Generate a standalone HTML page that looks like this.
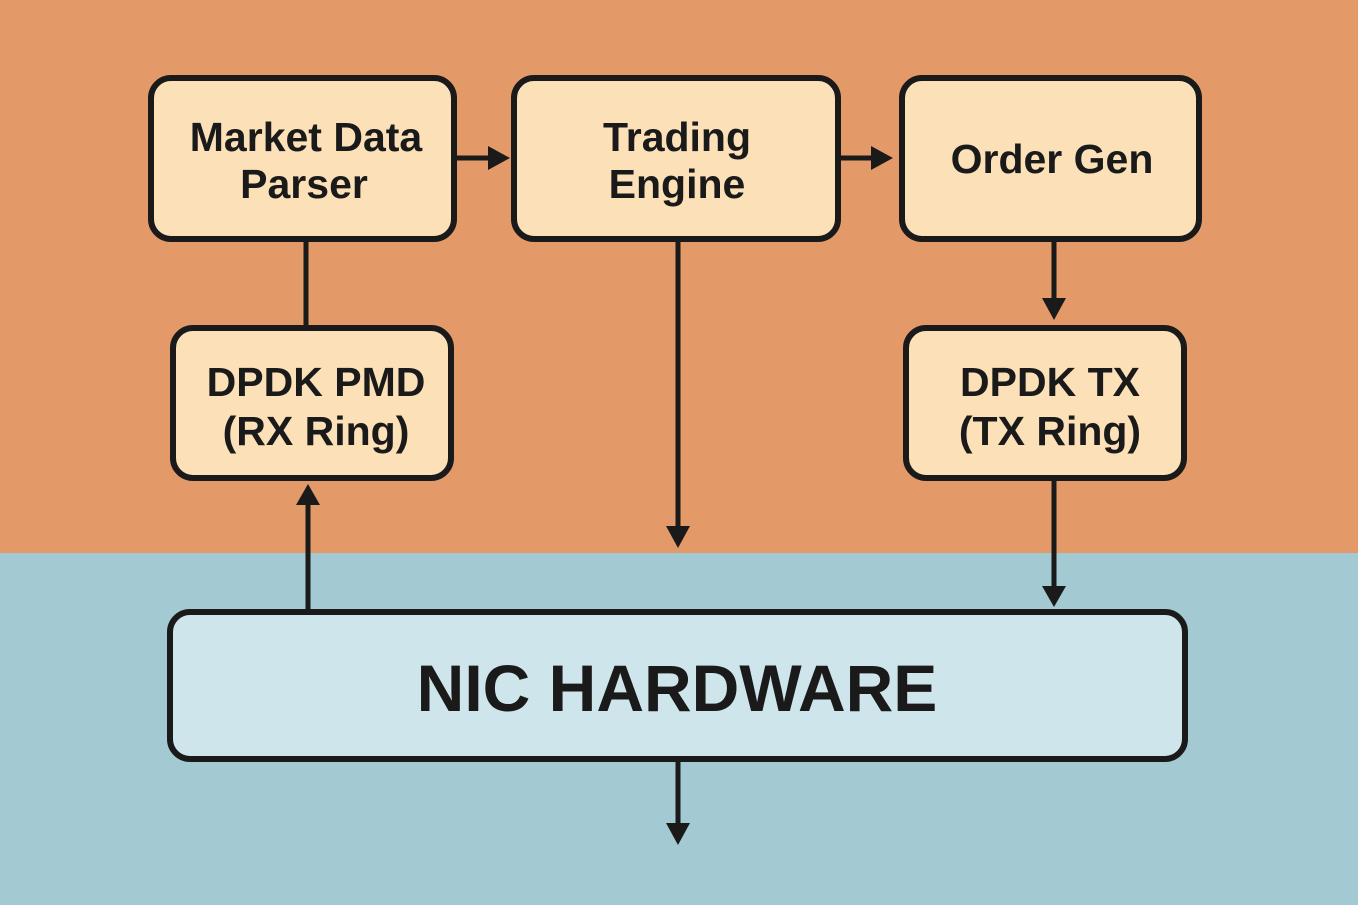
<!DOCTYPE html>
<html><head><meta charset="utf-8"><style>
html,body{margin:0;padding:0}
body{width:1358px;height:905px;overflow:hidden}
svg text{font-family:"Liberation Sans","DejaVu Sans",sans-serif;font-weight:bold;fill:#1a1a1a;text-anchor:middle}
</style></head><body>
<svg width="1358" height="905" xmlns="http://www.w3.org/2000/svg">
<rect x="0" y="0" width="1358" height="553" fill="#E39A68"/>
<rect x="0" y="553" width="1358" height="352" fill="#A3CAD3"/>
<g stroke="#1a1a1a" stroke-width="5" fill="none">
<line x1="306" y1="241" x2="306" y2="326"/>
<line x1="308" y1="610" x2="308" y2="505"/>
<line x1="456" y1="158" x2="490" y2="158"/>
<line x1="840" y1="158" x2="873" y2="158"/>
<line x1="678" y1="241" x2="678" y2="528"/>
<line x1="1054" y1="241" x2="1054" y2="300"/>
<line x1="1054" y1="480" x2="1054" y2="588"/>
<line x1="678" y1="761" x2="678" y2="825"/>
</g>
<g fill="#1a1a1a">
<path d="M296,505 L320,505 L308,484 z"/>
<path d="M488,146 L510,158 L488,170 z"/>
<path d="M871,146 L893,158 L871,170 z"/>
<path d="M666,526 L690,526 L678,548 z"/>
<path d="M1042,298 L1066,298 L1054,320 z"/>
<path d="M1042,586 L1066,586 L1054,607 z"/>
<path d="M666,823 L690,823 L678,845 z"/>
</g>
<g stroke="#1a1a1a" stroke-width="6" fill="#FBE0B8">
<rect x="151" y="78" width="303" height="161" rx="20"/>
<rect x="514" y="78" width="324" height="161" rx="20"/>
<rect x="902" y="78" width="297" height="161" rx="20"/>
<rect x="173" y="328" width="278" height="150" rx="20"/>
<rect x="906" y="328" width="278" height="150" rx="20"/>
<rect x="170" y="612" width="1015" height="147" rx="20" fill="#CDE5EB"/>
</g>
<text x="306" y="151" font-size="41">Market Data</text>
<text x="304" y="198" font-size="41">Parser</text>
<text x="677" y="151" font-size="41">Trading</text>
<text x="677" y="198" font-size="41">Engine</text>
<text x="1052" y="173" font-size="41">Order Gen</text>
<text x="316" y="396" font-size="41">DPDK PMD</text>
<text x="316" y="445" font-size="41">(RX Ring)</text>
<text x="1050" y="396" font-size="41">DPDK TX</text>
<text x="1050" y="445" font-size="41">(TX Ring)</text>
<text x="677" y="711" font-size="66">NIC HARDWARE</text>
</svg>
</body></html>
